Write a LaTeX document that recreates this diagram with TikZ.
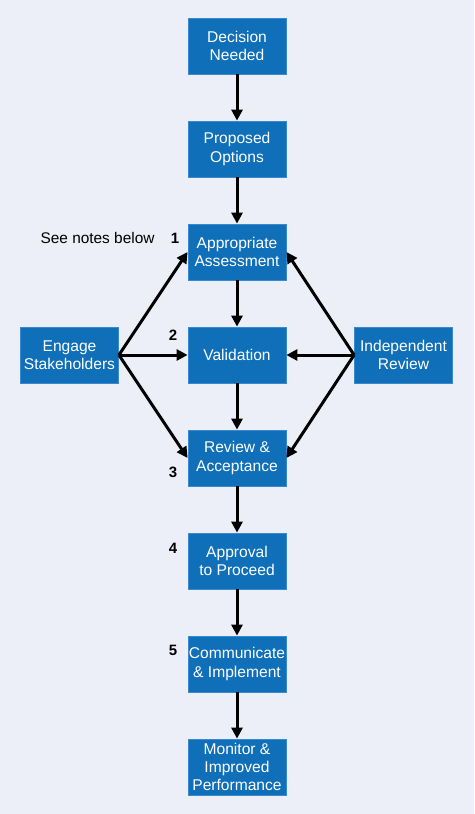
\documentclass[tikz,border=0pt]{standalone}
\usepackage{fontspec}
\setmainfont{Liberation Sans}
\usetikzlibrary{arrows.meta}
\definecolor{bgpanel}{HTML}{ECEFF8}
\definecolor{boxblue}{HTML}{0F6FB8}
\definecolor{boxedge}{HTML}{3A89CE}
\tikzset{
  stage/.style={rectangle,fill=boxblue,draw=boxedge,line width=0.8pt,
    minimum width=98pt,minimum height=56pt,inner sep=0pt,text=white,
    align=center,font=\fontsize{15.6}{18.4}\selectfont},
  flow/.style={line width=3pt,-{Triangle[length=11pt,width=11pt]}},
  stepnum/.style={font=\fontsize{15}{17}\selectfont\bfseries}
}

\begin{document}
\begin{tikzpicture}[x=1pt,y=-1pt]
\fill[bgpanel] (0,0) rectangle (474,814);
\useasboundingbox (0,0) rectangle (474,814);
\node[stage] (dec) at (237,46) {Decision\\Needed};
\node[stage] (opt) at (237,149) {Proposed\\Options};
\node[stage] (app) at (237,252) {Appropriate\\Assessment};
\node[stage] (val) at (237,355) {Validation};
\node[stage] (rev) at (237,458) {Review \&\\Acceptance};
\node[stage] (apr) at (237,561) {Approval\\to Proceed};
\node[stage] (com) at (237,664) {Communicate\\\& Implement};
\node[stage] (mon) at (237,767) {Monitor \&\\Improved\\Performance};
\node[stage] (eng) at (69.5,355) {Engage\\Stakeholders};
\node[stage] (ind) at (403.5,355) {Independent\\Review};
% step numbers
\node[font=\fontsize{15.4}{17}\selectfont,anchor=east] (see) at (158,238) {See notes below};
\node[stepnum] (n1) at (175,238) {1};
\node[stepnum] (n2) at (173,335) {2};
\node[stepnum] (n3) at (173,472) {3};
\node[stepnum] (n4) at (173,548) {4};
\node[stepnum] (n5) at (173,650) {5};
% main flow
\draw[flow] (dec) -- (opt);
\draw[flow] (opt) -- (app);
\draw[flow] (app) -- (val);
\draw[flow] (val) -- (rev);
\draw[flow] (rev) -- (apr);
\draw[flow] (apr) -- (com);
\draw[flow] (com) -- (mon);
% side inputs
\draw[flow] (eng.east) -- (app.west);
\draw[flow] (eng.east) -- (val.west);
\draw[flow] (eng.east) -- (rev.west);
\draw[flow] (ind.west) -- (app.east);
\draw[flow] (ind.west) -- (val.east);
\draw[flow] (ind.west) -- (rev.east);
\end{tikzpicture}
\end{document}
